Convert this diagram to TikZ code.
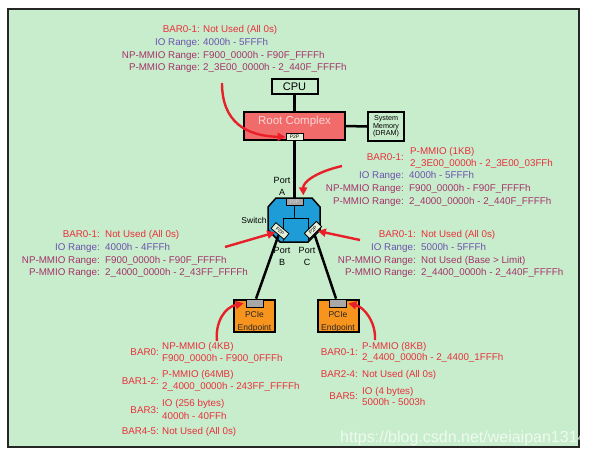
\documentclass[tikz,border=0pt]{standalone}
\usepackage{fontspec}
\setmainfont{Liberation Sans}
\usetikzlibrary{arrows.meta}
\definecolor{bg}{HTML}{C8EDCC}
\definecolor{cR}{HTML}{E8303C}
\definecolor{cIO}{HTML}{6B52AE}
\definecolor{cMM}{HTML}{A3336A}
\definecolor{rcfill}{HTML}{F26B6B}
\definecolor{rctext}{HTML}{FCD6D6}
\definecolor{swblue}{HTML}{1E9CD7}
\definecolor{epfill}{HTML}{F7941E}
\definecolor{p2pgray}{HTML}{A8A8A8}
\definecolor{p2plight}{HTML}{E4F2DC}
\definecolor{arrred}{HTML}{E8202A}
\newcommand\lab[5]{\node[txt,anchor=base east,text=#4] (#1) at (#2,#3) {#5};}
\newcommand\val[5]{\node[txt,anchor=base west,text=#4] (#1) at (#2,#3) {#5};}
\begin{document}
\begin{tikzpicture}[x=1pt,y=-1pt,
  txt/.style={font=\fontsize{9.8}{11}\selectfont, inner sep=0pt},
  blk/.style={draw=black, line width=2pt, inner sep=0pt},
  wire/.style={draw=black, line width=2.5pt},
  p2pbox/.style={draw=black, line width=0.8pt, inner sep=0pt, minimum width=17pt, minimum height=7.5pt, font=\fontsize{5}{5}\selectfont},
  redarr/.style={draw=arrred, line width=2.4pt, -{Triangle[length=8pt,width=8pt]}},
  small/.style={inner sep=0pt, align=center}]
\useasboundingbox (0,0) rectangle (595,456);
\fill[white] (0,0) rectangle (595,456);
\draw[fill=bg, line width=1.3pt, draw=black!85] (8,9) rectangle (579,447);

% top block
\lab{ta1}{200}{32.5}{cR}{BAR0-1:}
\val{ta2}{203}{32.5}{cR}{Not Used (All 0s)}
\lab{tb1}{200}{45.5}{cIO}{IO Range:}
\val{tb2}{203}{45.5}{cIO}{4000h - 5FFFh}
\lab{tc1}{200}{58}{cMM}{NP-MMIO Range:}
\val{tc2}{203}{58}{cMM}{F900\_0000h - F90F\_FFFFh}
\lab{td1}{200}{70.5}{cMM}{P-MMIO Range:}
\val{td2}{203}{70.5}{cMM}{2\_3E00\_0000h - 2\_440F\_FFFFh}

% boxes
\node[blk, fill=bg, minimum width=46pt, minimum height=15pt, font=\fontsize{11}{11}\selectfont] (cpu) at (294.5,86.5) {CPU};
\node[blk, fill=rcfill, minimum width=101pt, minimum height=28pt] (rc) at (294.5,126) {};
\node[small, text=rctext, font=\fontsize{11.5}{12}\selectfont] (rct) at (294.5,122) {Root Complex};
\node[p2pbox, fill=p2plight] (rcp) at (294.5,137) {P2P};
\node[blk, fill=bg, minimum width=36pt, minimum height=29pt, align=center, font=\fontsize{7.2}{7.5}\selectfont] (mem) at (386,126.5) {System\\Memory\\(DRAM)};

\draw[wire] (cpu) -- (rc);
\draw[wire] (rc.east) -- (mem.west);

% switch
\draw[fill=swblue, line width=1.5pt] (276,198) -- (312,198) -- (320,207) -- (320,230) -- (308,242) -- (280,242) -- (268,230) -- (268,207) -- cycle;
\node[p2pbox, fill=p2pgray, text=black!15] (spa) at (294.5,202) {P2P};
\draw[line width=1pt] (spa.south) -- (294.5,218.5);
\draw[line width=1pt] (283,241) -- (283,218.5) -- (308,218.5) -- (308,241);
\node[p2pbox, fill=p2plight, rotate=-40] (spb) at (280,231) {P2P};
\node[p2pbox, fill=p2plight, rotate=45] (spc) at (313,230) {P2P};
\draw[wire] (rcp.south) -- (spa.north);

\node[small, font=\fontsize{9}{12}\selectfont] (porta) at (282,186) {Port\\A};
\node[small, font=\fontsize{9}{12}\selectfont] (portb) at (282,256) {Port\\B};
\node[small, font=\fontsize{9}{12}\selectfont] (portc) at (307,256) {Port\\C};
\node[small, font=\fontsize{8.5}{9}\selectfont] (swt) at (254,220) {Switch};

% endpoints
\node[blk, fill=epfill, minimum width=41pt, minimum height=32pt] (ep1) at (254.5,316) {};
\node[draw=black, line width=0.8pt, fill=p2pgray, minimum width=17pt, minimum height=8pt, inner sep=0pt] (g1) at (254.5,303) {};
\node[small, text=black!85, font=\fontsize{8.5}{13}\selectfont] (ep1t) at (254.5,321.5) {PCIe\\Endpoint};
\node[blk, fill=epfill, minimum width=41pt, minimum height=32pt] (ep2) at (338,316) {};
\node[draw=black, line width=0.8pt, fill=p2pgray, minimum width=17pt, minimum height=8pt, inner sep=0pt] (g2) at (337.5,303) {};
\node[small, text=black!85, font=\fontsize{8.5}{13}\selectfont] (ep2t) at (338,321.5) {PCIe\\Endpoint};
\draw[wire] (spb) -- (g1);
\draw[wire] (spc) -- (g2);

% right upper block
\lab{ra1}{404}{160.5}{cR}{BAR0-1:}
\val{ra2}{410}{154.5}{cR}{P-MMIO (1KB)}
\val{ra3}{410}{166.5}{cR}{2\_3E00\_0000h - 2\_3E00\_03FFh}
\lab{rb1}{404}{178.5}{cIO}{IO Range:}
\val{rb2}{409}{178.5}{cIO}{4000h - 5FFFh}
\lab{rc1}{404}{191.5}{cMM}{NP-MMIO Range:}
\val{rc2}{409}{191.5}{cMM}{F900\_0000h - F90F\_FFFFh}
\lab{rd1}{404}{204.5}{cMM}{P-MMIO Range:}
\val{rd2}{409}{204.5}{cMM}{2\_4000\_0000h - 2\_440F\_FFFFh}

% left block
\lab{la1}{100}{237.5}{cR}{BAR0-1:}
\val{la2}{105}{237.5}{cR}{Not Used (All 0s)}
\lab{lb1}{100}{250.5}{cIO}{IO Range:}
\val{lb2}{105}{250.5}{cIO}{4000h - 4FFFh}
\lab{lc1}{100}{263.5}{cMM}{NP-MMIO Range:}
\val{lc2}{105}{263.5}{cMM}{F900\_0000h - F90F\_FFFFh}
\lab{ld1}{100}{275.5}{cMM}{P-MMIO Range:}
\val{ld2}{105}{275.5}{cMM}{2\_4000\_0000h - 2\_43FF\_FFFFh}

% right lower block
\lab{sa1}{416}{237.5}{cR}{BAR0-1:}
\val{sa2}{421}{237.5}{cR}{Not Used (All 0s)}
\lab{sb1}{416}{250.5}{cIO}{IO Range:}
\val{sb2}{421}{250.5}{cIO}{5000h - 5FFFh}
\lab{sc1}{416}{263.5}{cMM}{NP-MMIO Range:}
\val{sc2}{421}{263.5}{cMM}{Not Used (Base > Limit)}
\lab{sd1}{416}{275.5}{cMM}{P-MMIO Range:}
\val{sd2}{421}{275.5}{cMM}{2\_4400\_0000h - 2\_440F\_FFFFh}

% bottom left block
\lab{ba1}{159}{355.5}{cR}{BAR0:}
\val{ba2}{162}{349.5}{cR}{NP-MMIO (4KB)}
\val{ba3}{162}{361.5}{cR}{F900\_0000h - F900\_0FFFh}
\lab{bb1}{159}{384.5}{cR}{BAR1-2:}
\val{bb2}{162}{377.5}{cR}{P-MMIO (64MB)}
\val{bb3}{162}{389.5}{cR}{2\_4000\_0000h - 243FF\_FFFFh}
\lab{bc1}{159}{413.5}{cR}{BAR3:}
\val{bc2}{162}{406.5}{cR}{IO (256 bytes)}
\val{bc3}{162}{419.5}{cR}{4000h - 40FFh}
\lab{bd1}{159}{434.5}{cR}{BAR4-5:}
\val{bd2}{162}{434.5}{cR}{Not Used (All 0s)}

% bottom right block
\lab{ca1}{358}{355.5}{cR}{BAR0-1:}
\val{ca2}{362}{349.5}{cR}{P-MMIO (8KB)}
\val{ca3}{362}{360.5}{cR}{2\_4400\_0000h - 2\_4400\_1FFFh}
\lab{cb1}{358}{377.5}{cR}{BAR2-4:}
\val{cb2}{362}{377.5}{cR}{Not Used (All 0s)}
\lab{cc1}{358}{399.5}{cR}{BAR5:}
\val{cc2}{362}{394.5}{cR}{IO (4 bytes)}
\val{cc3}{362}{405.5}{cR}{5000h - 5003h}

% red arrows
\coordinate (a1) at (222,83);
\coordinate (a2) at (342,166);
\coordinate (a3) at (225,247);
\coordinate (a4) at (360,240);
\coordinate (a5) at (217,341);
\coordinate (a6) at (375,340);
\draw[redarr] (a1) .. controls (222,122) and (246,136) .. (rcp.west);
\draw[redarr, shorten >=2.5pt] (a2) .. controls (316,172) and (303,182) .. (spa.north east);
\draw[redarr] (a3) -- (spb);
\draw[redarr] (a4) -- (spc);
\draw[redarr, shorten >=2pt] (a5) .. controls (215,322) and (225,307) .. (g1.west);
\draw[redarr, shorten >=2pt] (a6) .. controls (376,322) and (364,307) .. (g2.east);

% watermark
\node[anchor=base west, inner sep=0pt, text=white, opacity=0.7, font=\fontsize{16}{16}\selectfont] (wm) at (340,442) {https://blog.csdn.net/weiaipan1314};
\end{tikzpicture}
\end{document}
